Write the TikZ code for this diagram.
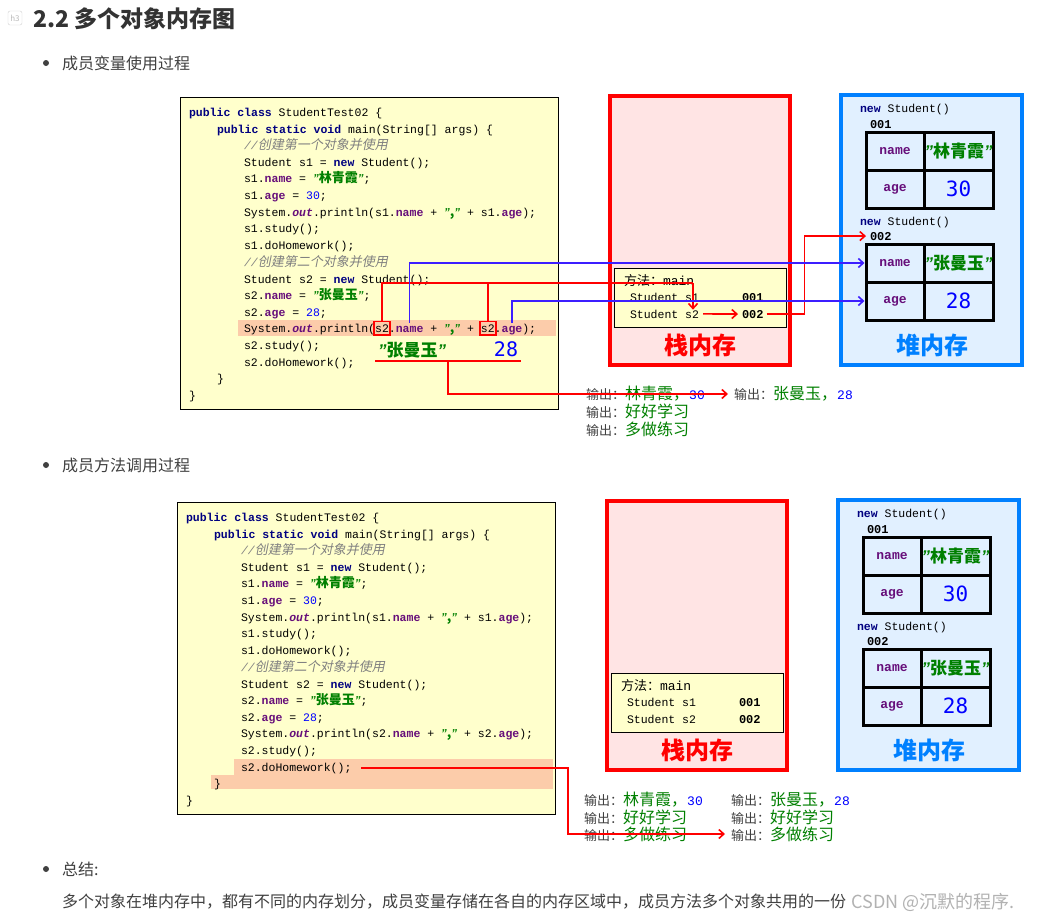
\documentclass[tikz,border=0pt]{standalone}
\usepackage{fontspec}
\setmainfont{Noto Sans CJK SC}
\newfontfamily\cjk{Noto Sans CJK SC}
\newfontfamily\cjkit[FakeSlant=0.2]{Noto Sans CJK SC}
\newfontfamily\codefont{Liberation Mono}
\newfontfamily\qfont{Liberation Sans}
\newfontfamily\numfont{DejaVu Sans Mono}
\usetikzlibrary{arrows.meta,calc,positioning}

\definecolor{kwc}{RGB}{0,0,128}
\definecolor{fdc}{RGB}{102,14,122}
\definecolor{stc}{RGB}{0,128,0}
\definecolor{nmc}{RGB}{0,0,255}
\definecolor{cmc}{RGB}{128,128,128}
\definecolor{codebg}{RGB}{255,255,204}
\definecolor{hilite}{RGB}{252,204,170}
\definecolor{stackbg}{RGB}{255,228,228}
\definecolor{stackc}{RGB}{255,0,0}
\definecolor{heapbg}{RGB}{225,240,255}
\definecolor{heapc}{RGB}{0,128,255}
\definecolor{linkb}{RGB}{60,30,255}
\definecolor{txtc}{RGB}{64,64,64}
\definecolor{titc}{RGB}{51,51,51}

% code tokens
\newcommand\jkw[1]{{\color{kwc}\bfseries#1}}
\newcommand\jfd[1]{{\color{fdc}\bfseries#1}}
\newcommand\jnum[1]{{\color{nmc}#1}}
\newcommand\jq{{\qfont\itshape ”}}
\newcommand\jstr[1]{{\color{stc}\bfseries\jq{\cjk\fontsize{13}{14}\selectfont#1}\jq}}
\newcommand\jcmt[1]{{\color{cmc}\itshape //{\cjkit\fontsize{13}{14}\selectfont#1}}}
\newcommand\jout{{\color{fdc}\bfseries\itshape out}}
% output rows
\newcommand\prt[1]{{\color{txtc}\fontsize{13}{15}\selectfont 输出：}#1}
\newcommand\gv[1]{{\color{stc}\fontsize{16}{18}\selectfont #1}}
\newcommand\bv[1]{{\color{nmc}\codefont\fontsize{13}{15}\selectfont #1}}

\tikzset{
  code/.style={anchor=base west, inner sep=0pt, outer sep=0pt,
    font=\codefont\fontsize{11.5}{13}\selectfont},
  idstyle/.style={font=\codefont\bfseries\fontsize{12}{14}\selectfont},
  cell/.style={draw, line width=3pt, minimum width=58pt, minimum height=38pt, inner sep=0pt},
  fcell/.style={cell, text=fdc, font=\codefont\bfseries\fontsize{13}{15}\selectfont},
  vcell/.style={cell, minimum width=69pt, text=stc, font=\bfseries\fontsize{17}{19}\selectfont},
  ncell/.style={cell, minimum width=69pt, text=nmc, font=\numfont\fontsize{21}{23}\selectfont},
  redln/.style={draw=red, line width=1.6pt},
  blueln/.style={draw=linkb, line width=1.6pt},
  outrow/.style={anchor=west, inner sep=0pt},
  para/.style={anchor=west, inner sep=0pt, text=txtc, font=\fontsize{16}{18}\selectfont},
  bullet/.style={circle, fill=txtc, inner sep=0pt, minimum size=6pt},
}

% one code box + stack + heap, drawn at the top position
\newcommand\memblock[1]{%
  \fill[codebg] (180,97) rectangle (558,409);
  #1
  \draw[line width=0.8pt] (180,97) rectangle (558,409);
  \node[code] (c1) at (189,116) {\jkw{public class} StudentTest02 \{};
  \node[code] (c2) at (217,133) {\jkw{public static void} main(String[] args) \{};
  \node[code] (c3) at (244,149) {\jcmt{创建第一个对象并使用}};
  \node[code] (c4) at (244,166) {Student s1 = \jkw{new} Student();};
  \node[code] (c5) at (244,182) {s1.\jfd{name} = \jstr{林青霞};};
  \node[code] (c6) at (244,199) {s1.\jfd{age} = \jnum{30};};
  \node[code] (c7) at (244,216) {System.\jout.println(s1.\jfd{name} + \jstr{,} + s1.\jfd{age});};
  \node[code] (c8) at (244,232) {s1.study();};
  \node[code] (c9) at (244,249) {s1.doHomework();};
  \node[code] (c10) at (244,266) {\jcmt{创建第二个对象并使用}};
  \node[code] (c11) at (244,283) {Student s2 = \jkw{new} Student();};
  \node[code] (c12) at (244,299) {s2.\jfd{name} = \jstr{张曼玉};};
  \node[code] (c13) at (244,316) {s2.\jfd{age} = \jnum{28};};
  \node[code] (c14) at (244,332) {System.\jout.println(};
  \node[code] (s2a) at (c14.base east) {s2};
  \node[code] (pb) at (s2a.base east) {.};
  \node[code] (nm) at (pb.base east) {\jfd{name}};
  \node[code] (pc) at (nm.base east) {\ +\ \jstr{,}\ +\ \null};
  \node[code] (s2b) at (pc.base east) {s2};
  \node[code] (pd) at (s2b.base east) {.};
  \node[code] (ag) at (pd.base east) {\jfd{age}};
  \node[code] (pe) at (ag.base east) {);};
  \node[code] (c15) at (244,349) {s2.study();};
  \node[code] (c16) at (244,366) {s2.doHomework();};
  \node[code] (c17) at (217,382) {\}};
  \node[code] (c18) at (189,399) {\}};
  % stack
  \draw[draw=stackc, fill=stackbg, line width=4pt] (610,96) rectangle (790,365);
  \draw[fill=codebg, line width=0.8pt] (614,268) rectangle (786,327);
  \node[code, font=\fontsize{13}{15}\selectfont] (mf) at (624,285) {方法：{\codefont main}};
  \node[code] (s1) at (630,301) {Student s1};
  \node[code, idstyle] (a1) at (742,301) {001};
  \node[code] (s2) at (630,318) {Student s2};
  \node[code, idstyle] (a2) at (742,318) {002};
  \node[text=stackc, font=\bfseries\fontsize{24}{26}\selectfont] (sk) at (700,345) {栈内存};
  % heap
  \draw[draw=heapc, fill=heapbg, line width=4pt] (841,95) rectangle (1022,365);
  \node[code] (h1) at (860,112) {\jkw{new} Student()};
  \node[code, idstyle] (i1) at (870,128) {001};
  \node[fcell] (n1) at (895,151) {name};
  \node[vcell] (v1) at (958.5,151) {\jq 林青霞\jq};
  \node[fcell] (g1) at (895,189) {age};
  \node[ncell] (w1) at (958.5,189) {30};
  \node[code] (h2) at (860,225) {\jkw{new} Student()};
  \node[code, idstyle] (i2) at (870,240) {002};
  \node[fcell] (n2) at (895,263) {name};
  \node[vcell] (v2) at (958.5,263) {\jq 张曼玉\jq};
  \node[fcell] (g2) at (895,301) {age};
  \node[ncell] (w2) at (958.5,301) {28};
  \node[text=heapc, font=\bfseries\fontsize{24}{26}\selectfont] (hp) at (932,345) {堆内存};
}

\begin{document}
\begin{tikzpicture}[x=1pt,y=-1pt,>={Straight Barb[length=5pt,width=9pt]}]
\fill[white] (0,0) rectangle (1043,921);
\useasboundingbox (0,0) rectangle (1043,921);
% heading
\node[draw=gray!35, rounded corners=2pt, text=gray!55, font=\fontsize{8}{8}\selectfont,
  minimum size=14pt, inner sep=0pt] (icon) at (15,18) {h3};
\node[anchor=west, inner sep=0pt, text=titc, font=\bfseries\fontsize{23}{26}\selectfont]
  (title) at (33,19) {2.2 多个对象内存图};
\node[bullet] (d1) at (46,63) {};
\node[para] (p1) at (62,63) {成员变量使用过程};
\node[bullet] (d2) at (46,465) {};
\node[para] (p2) at (62,465) {成员方法调用过程};

% member variables
\begin{scope}[name prefix=t-]
\memblock{\fill[hilite] (238,320) rectangle (556,336);}
\end{scope}
% member methods
\begin{scope}[shift={(-3,405)}, name prefix=b-]
\memblock{\fill[hilite] (237,354) rectangle (556,370);
  \fill[hilite] (214,370) rectangle (556,384);}
\end{scope}

% marks in the first code box
\draw[redln] ([xshift=-1pt,yshift=-3pt]t-s2a.south west) rectangle ([xshift=1pt,yshift=3pt]t-s2a.north east);
\draw[redln] ([xshift=-1pt,yshift=-3pt]t-s2b.south west) rectangle ([xshift=1pt,yshift=3pt]t-s2b.north east);
\node[text=stc, font=\bfseries\fontsize{17}{19}\selectfont] (ann1) at (412,350) {\jq 张曼玉\jq};
\node[text=nmc, font=\numfont\fontsize{20}{22}\selectfont] (ann2) at (506,349) {28};
\coordinate (u1) at (375,361);
\coordinate (u2) at (521,361);

% outputs
\node[outrow] (o1) at (586,394) {\prt{\gv{林青霞，}\bv{30}}};
\node[outrow] (o2) at (734,394) {\prt{\gv{张曼玉，}\bv{28}}};
\node[outrow] (o3) at (586,411) {\prt{\gv{好好学习}}};
\node[outrow] (o4) at (586,429) {\prt{\gv{多做练习}}};
\node[outrow] (o5) at (584,800) {\prt{\gv{林青霞，}\bv{30}}};
\node[outrow] (o6) at (584,817) {\prt{\gv{好好学习}}};
\node[outrow] (o7) at (584,834) {\prt{\gv{多做练习}}};
\node[outrow] (o8) at (731,800) {\prt{\gv{张曼玉，}\bv{28}}};
\node[outrow] (o9) at (731,817) {\prt{\gv{好好学习}}};
\node[outrow] (o10) at (731,834) {\prt{\gv{多做练习}}};

% references s2 -> 002
\coordinate (rtop) at (693,283);
\draw[redln] ([yshift=3pt]t-s2a.north) |- (rtop);
\draw[redln] ([yshift=3pt]t-s2b.north) -- (t-s2b.north |- rtop);
\draw[redln,->] (rtop) -- (rtop |- t-s2.north);
\draw[redln,->] ([xshift=4pt]t-s2.east) -- ([xshift=-4pt]t-a2.west);
\draw[redln,->] ([xshift=3pt]t-a2.east) -- ++(38,0) |- ([xshift=-4pt]t-i2.west);
\draw[blueln,->] ([yshift=3pt]t-nm.north) |- (t-n2.west);
\draw[blueln,->] ([yshift=3pt]t-ag.north) |- (t-g2.west);
\draw[redln] (u1) -- (u2);
\draw[redln,->] ($(u1)!0.5!(u2)$) |- ([xshift=-6pt]o2.west);
\coordinate (bk) at (568,766);
\draw[redln,->] ([xshift=10pt]b-c16.east) -- (b-c16.east -| bk) |- ([xshift=-6pt]o10.west);

% summary
\node[bullet] (d3) at (46,869) {};
\node[para] (p3) at (62,869) {总结:};
\node[para] (sum) at (62,902) {多个对象在堆内存中，都有不同的内存划分，成员变量存储在各自的内存区域中，成员方法多个对象共用的一份};
\node[para, text=gray!60, font=\fontsize{18}{20}\selectfont, right=5pt of sum] (wm) {CSDN @沉默的程序.};
\end{tikzpicture}
\end{document}
